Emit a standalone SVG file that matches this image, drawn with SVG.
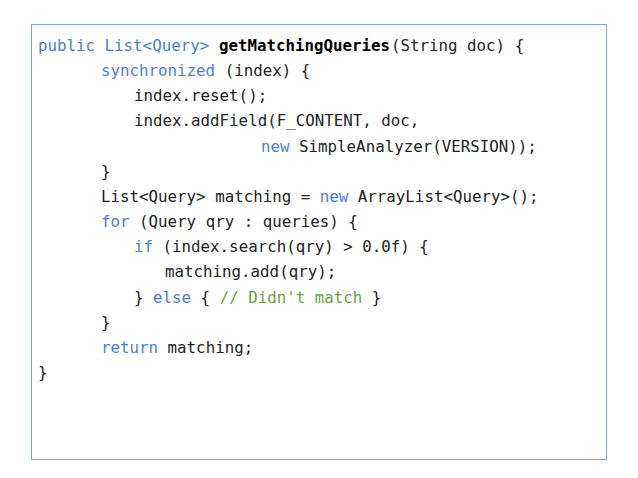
<svg xmlns="http://www.w3.org/2000/svg" width="638" height="478" viewBox="0 0 638 478">
<style>
text{font-family:"DejaVu Sans Mono","Liberation Mono",monospace;font-size:15.8px;fill:#222;white-space:pre}
.k{fill:#4a7fcf}.c{fill:#6aa03c}.b{font-weight:bold;fill:#000}
</style>
<rect width="638" height="478" fill="#fff"/>
<rect x="31.5" y="24.5" width="575" height="435" fill="none" stroke="#7aa6dc" stroke-width="1"/>
<g id="code">
<text x="38" y="51"><tspan class="k">public List&lt;Query&gt; </tspan><tspan class="b" x="219" textLength="171" lengthAdjust="spacingAndGlyphs">getMatchingQueries</tspan><tspan x="391">(String doc) {</tspan></text>
<text x="101" y="76"><tspan class="k">synchronized</tspan> (index) {</text>
<text x="134" y="101">index.reset();</text>
<text x="134" y="126">index.addField(F_CONTENT, doc,</text>
<text x="261" y="152"><tspan class="k">new</tspan> SimpleAnalyzer(VERSION));</text>
<text x="101" y="177">}</text>
<text x="101" y="202">List&lt;Query&gt; matching = <tspan class="k">new</tspan> ArrayList&lt;Query&gt;();</text>
<text x="101" y="227"><tspan class="k">for</tspan> (Query qry : queries) {</text>
<text x="134" y="252"><tspan class="k">if</tspan> (index.search(qry) &gt; 0.0f) {</text>
<text x="165" y="277">matching.add(qry);</text>
<text x="134" y="303">} <tspan class="k">else</tspan> { <tspan class="c">// Didn't match</tspan> }</text>
<text x="101" y="328">}</text>
<text x="101" y="353"><tspan class="k">return</tspan> matching;</text>
<text x="38" y="378">}</text>
</g>
</svg>
